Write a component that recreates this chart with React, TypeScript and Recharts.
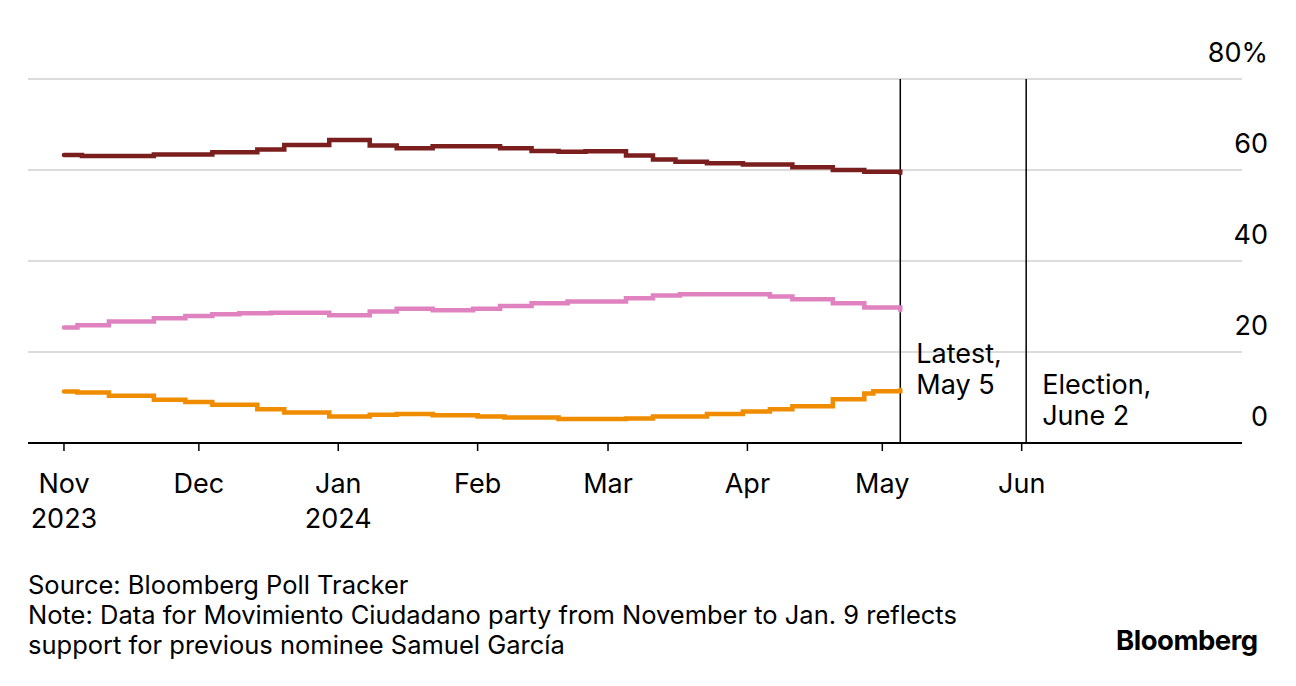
import React from "react";
import {
  LineChart,
  Line,
  XAxis,
  YAxis,
  CartesianGrid,
  ReferenceLine,
} from "recharts";

// poll averages, [date, share %]
const sheinbaum: [string, number][] = [
  ["2023-11-01", 63.3], ["2023-11-05", 63.1], ["2023-11-21", 63.4], ["2023-12-04", 63.9],
  ["2023-12-14", 64.5], ["2023-12-20", 65.5], ["2023-12-30", 66.6], ["2024-01-08", 65.4],
  ["2024-01-14", 64.8], ["2024-01-22", 65.2], ["2024-02-06", 64.8], ["2024-02-13", 64.2],
  ["2024-02-19", 64.0], ["2024-02-25", 64.1], ["2024-03-05", 63.2], ["2024-03-11", 62.3],
  ["2024-03-16", 61.8], ["2024-03-23", 61.5], ["2024-03-31", 61.2], ["2024-04-11", 60.6],
  ["2024-04-20", 60.0], ["2024-04-27", 59.6], ["2024-05-05", 59.3],
];

const galvez: [string, number][] = [
  ["2023-11-01", 25.4], ["2023-11-04", 25.9], ["2023-11-11", 26.7], ["2023-11-21", 27.4],
  ["2023-11-28", 27.9], ["2023-12-04", 28.3], ["2023-12-10", 28.5], ["2023-12-17", 28.6],
  ["2023-12-30", 28.1], ["2024-01-08", 28.9], ["2024-01-14", 29.5], ["2024-01-22", 29.2],
  ["2024-01-31", 29.5], ["2024-02-06", 30.1], ["2024-02-13", 30.7], ["2024-02-21", 31.1],
  ["2024-03-05", 31.8], ["2024-03-11", 32.4], ["2024-03-17", 32.7], ["2024-04-06", 32.2],
  ["2024-04-11", 31.6], ["2024-04-20", 30.7], ["2024-04-27", 29.8], ["2024-05-05", 29.2],
];

const maynez: [string, number][] = [
  ["2023-11-01", 11.3], ["2023-11-04", 11.1], ["2023-11-11", 10.4], ["2023-11-21", 9.5],
  ["2023-11-28", 9.0], ["2023-12-04", 8.4], ["2023-12-14", 7.4], ["2023-12-20", 6.7],
  ["2023-12-30", 5.8], ["2024-01-08", 6.2], ["2024-01-14", 6.4], ["2024-01-22", 6.1],
  ["2024-02-01", 5.8], ["2024-02-07", 5.6], ["2024-02-19", 5.3], ["2024-03-05", 5.4],
  ["2024-03-11", 5.8], ["2024-03-23", 6.4], ["2024-03-31", 6.9], ["2024-04-06", 7.4],
  ["2024-04-11", 8.1], ["2024-04-20", 9.6], ["2024-04-27", 10.9], ["2024-04-29", 11.4],
  ["2024-05-05", 11.7],
];

const monthTicks = [
  "2023-11-01", "2023-12-01", "2024-01-01", "2024-02-01",
  "2024-03-01", "2024-04-01", "2024-05-01", "2024-06-01",
];
const monthLabels = ["Nov", "Dec", "Jan", "Feb", "Mar", "Apr", "May", "Jun"];
const yearLabels = ["2023", "", "2024", "", "", "", "", ""];

const yTicks = [0, 20, 40, 60, 80];
const xDomain = ["2023-10-24", "2024-07-20"];

const markers = [
  { date: "2024-05-05", lines: ["Latest,", "May 5"], top: 363 },
  { date: "2024-06-02", lines: ["Election,", "June 2"], top: 394 },
];

const FONT = "Inter, 'Liberation Sans', sans-serif";
const LABEL_SIZE = 27;
const day = (s: string) => Date.parse(s + "T00:00:00Z") / 86400000;
const toRows = (arr: [string, number][]) => arr.map(([d, v]) => ({ t: day(d), v }));

const XTick = (props: any) => {
  const { x, y, index } = props;
  return (
    <text x={x} y={y} textAnchor="middle" fontSize={LABEL_SIZE} fill="#000" fontFamily={FONT}>
      <tspan x={x} dy={40}>{monthLabels[index]}</tspan>
      {yearLabels[index] && <tspan x={x} dy={35}>{yearLabels[index]}</tspan>}
    </text>
  );
};

const YTick = (props: any) => {
  const { y, payload } = props;
  const v = payload.value;
  return (
    <text x={1268} y={y - 17} textAnchor="end" fontSize={LABEL_SIZE} fill="#000" fontFamily={FONT}>
      {v === 80 ? "80%" : v}
    </text>
  );
};

const MarkerLabel = (props: any) => {
  const { viewBox, lines, top } = props;
  const x = viewBox.x + 16;
  return (
    <text x={x} y={top} fontSize={LABEL_SIZE} fill="#000" fontFamily={FONT}>
      <tspan x={x}>{lines[0]}</tspan>
      <tspan x={x} dy={31}>{lines[1]}</tspan>
    </text>
  );
};

export default function App() {
  return (
    <div style={{ position: "relative", width: 1296, height: 686, background: "#fff", fontFamily: FONT }}>
      <style>{`body{margin:0}`}</style>
      <LineChart
        width={1296}
        height={686}
        margin={{ top: 79, right: 0, left: 28, bottom: 0 }}
      >
        <CartesianGrid horizontal vertical={false} stroke="#dcdcdc" strokeWidth={2} />
        <XAxis
          type="number"
          dataKey="t"
          domain={xDomain.map(day)}
          ticks={monthTicks.map(day)}
          tick={<XTick />}
          tickSize={8}
          tickLine={{ stroke: "#000", strokeWidth: 1.5 }}
          axisLine={{ stroke: "#000", strokeWidth: 2 }}
          allowDataOverflow
          height={243}
        />
        <YAxis
          orientation="right"
          domain={[0, 80]}
          ticks={yTicks}
          tick={<YTick />}
          axisLine={false}
          tickLine={false}
          width={54}
        />
        {markers.map((m) => (
          <ReferenceLine
            key={m.date}
            x={day(m.date)}
            stroke="#000"
            strokeWidth={1.5}
            label={<MarkerLabel lines={m.lines} top={m.top} />}
          />
        ))}
        <Line data={toRows(sheinbaum)} dataKey="v" type="stepAfter" stroke="#7b1e1e" strokeWidth={4.5} dot={false} strokeLinecap="round" isAnimationActive={false} />
        <Line data={toRows(galvez)} dataKey="v" type="stepAfter" stroke="#e082c0" strokeWidth={4.5} dot={false} strokeLinecap="round" isAnimationActive={false} />
        <Line data={toRows(maynez)} dataKey="v" type="stepAfter" stroke="#f08c00" strokeWidth={4.5} dot={false} strokeLinecap="round" isAnimationActive={false} />
      </LineChart>
      <div style={{ position: "absolute", left: 28, top: 570, fontSize: 25.5, lineHeight: "30px", color: "#000" }}>
        <div>Source: Bloomberg Poll Tracker</div>
        <div>Note: Data for Movimiento Ciudadano party from November to Jan. 9 reflects</div>
        <div>support for previous nominee Samuel García</div>
      </div>
      <div style={{ position: "absolute", left: 1116, top: 623, fontSize: 27.5, fontWeight: 700, letterSpacing: -0.5, color: "#000" }}>
        Bloomberg
      </div>
    </div>
  );
}
